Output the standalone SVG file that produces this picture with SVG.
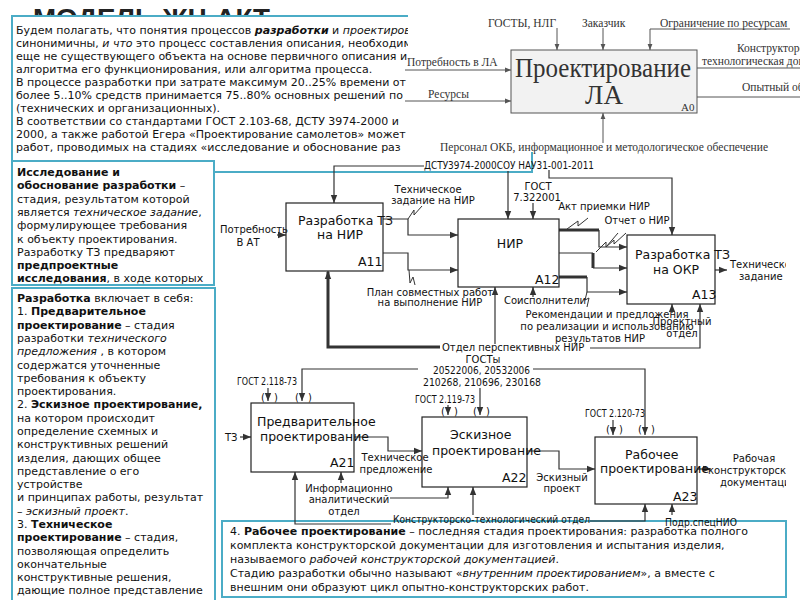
<svg xmlns="http://www.w3.org/2000/svg" width="800" height="600" viewBox="0 0 800 600">
<defs>
<style>
.tb{font-family:"DejaVu Sans",sans-serif;font-size:11px;fill:#111}
.b{font-weight:bold}
.i{font-style:italic}
.box{fill:#fff;stroke:#4BACC6;stroke-width:2}
.n{fill:none;stroke:#222;stroke-width:1.2}
.nl{font-family:"DejaVu Sans",sans-serif;font-size:12.5px;fill:#111}
.lb{font-family:"DejaVu Sans",sans-serif;font-size:10px;fill:#111}
.c{fill:none;stroke:#333;stroke-width:1.2}
.th{stroke-width:3}
.sq{fill:none;stroke:#333;stroke-width:1}
.s{font-family:"Liberation Serif","Times New Roman",serif;fill:#333}
.a0{fill:none;stroke:#555;stroke-width:1}
.m{text-anchor:middle}
</style>
<marker id="ah" viewBox="0 0 10 10" refX="10" refY="5" markerWidth="9" markerHeight="8" markerUnits="userSpaceOnUse" orient="auto"><path d="M0,1 L10,5 L0,9 z" fill="#333"/></marker>
<marker id="ah0" viewBox="0 0 10 10" refX="10" refY="5" markerWidth="7" markerHeight="6" markerUnits="userSpaceOnUse" orient="auto"><path d="M0,1 L10,5 L0,9 z" fill="#555"/></marker>
<clipPath id="clipTop"><rect x="0" y="0" width="408" height="200"/></clipPath>
<clipPath id="clipLow"><rect x="0" y="0" width="786" height="600"/></clipPath>
</defs>
<rect width="800" height="600" fill="#fff"/>

<text id="title" x="33" y="27" font-family="Liberation Sans, Arial, sans-serif" font-weight="bold" font-size="26" fill="#222" textLength="237" lengthAdjust="spacingAndGlyphs">МОДЕЛЬ ЖЦ АКТ</text>

<g id="top-box">
<rect class="box" x="12" y="16" width="520" height="156"/>
<g clip-path="url(#clipTop)" class="tb">
<text x="16" y="34">Будем полагать, что понятия процессов <tspan class="b i">разработки</tspan> и <tspan class="i">проектирова</tspan></text>
<text x="16" y="47">синонимичны, <tspan class="i">и что</tspan> это процесс составления описания, необходимого</text>
<text x="16" y="60">еще не существующего объекта на основе первичного описания и</text>
<text x="16" y="73">алгоритма его функционирования, или алгоритма процесса.</text>
<text x="16" y="86">В процессе разработки при затрате максимум 20..25% времени от</text>
<text x="16" y="99">более 5..10% средств принимается 75..80% основных решений по</text>
<text x="16" y="112">(технических и организационных).</text>
<text x="16" y="125">В соответствии со стандартами ГОСТ 2.103-68, ДСТУ 3974-2000 и</text>
<text x="16" y="138">2000, а также работой Егера «Проектирование самолетов» может</text>
<text x="16" y="151">работ, проводимых на стадиях «исследование и обоснование раз</text>
</g>
</g>

<g id="bottom-box">
<rect class="box" x="222" y="521" width="564" height="76" stroke-width="2.5"/>
<g class="tb">
<text x="230" y="535">4. <tspan class="b">Рабочее проектирование</tspan> – последняя стадия проектирования: разработка полного</text>
<text x="230" y="549">комплекта конструкторской документации для изготовления и испытания изделия,</text>
<text x="230" y="563">называемого <tspan class="i">рабочей конструкторской документацией</tspan>.</text>
<text x="230" y="577">Стадию разработки обычно называют «<tspan class="i">внутренним проектированием</tspan>», а вместе с</text>
<text x="230" y="591">внешним они образуют цикл опытно-конструкторских работ.</text>
</g>
</g>

<g id="lower-diagram" clip-path="url(#clipLow)">
<g id="connectors">
<path class="c" d="M424,166 H334 V203" marker-end="url(#ah)"/>
<path class="c" d="M508,171 V219" marker-end="url(#ah)"/>
<path class="c" d="M533,203 V219" marker-end="url(#ah)"/>
<path class="c" d="M549,170 V178 H672 V235" marker-end="url(#ah)"/>
<path class="c" d="M277,235 H286" marker-end="url(#ah)"/>
<path class="c" d="M383,219 H408 V235 H458" marker-end="url(#ah)"/>
<path class="c" d="M383,253 H408 V270 H458" marker-end="url(#ah)"/>
<path class="c th" d="M440,347 H328 V272"/>
<path class="c" d="M328,280 V271" marker-end="url(#ah)"/>
<path class="c" d="M495,344 V287" marker-end="url(#ah)"/>
<path class="c" d="M590,348 H700 V304" marker-end="url(#ah)"/>
<path class="c" d="M533,297 V287" marker-end="url(#ah)"/>
<path class="c th" d="M559,230 H599"/>
<path class="c" d="M599,230 V247 H627" marker-end="url(#ah)"/>
<path class="c" d="M559,253 H593"/>
<path class="c th" d="M593,253 V268"/>
<path class="c" d="M593,268 H627" marker-end="url(#ah)"/>
<path class="c th" d="M559,277 H587"/>
<path class="c" d="M587,277 V292 H627" marker-end="url(#ah)"/>
<path class="c" d="M672,313 V304" marker-end="url(#ah)"/>
<path class="c" d="M715,270 H727" marker-end="url(#ah)"/>
<path class="sq" d="M408,219 L414,210 L414,215 L422,206"/>
<path class="sq" d="M409,270 L410,283 L413,277 L415,285"/>
<path class="sq" d="M567,229 L578,221 L578,226 L588,218"/>
<path class="sq" d="M596,252 L606,242 L606,247 L618,233"/>
<path class="sq" d="M606,247 L614,240 L614,244 L626,233"/>
<path class="sq" d="M587,292 L585,300 L589,298 L587,307"/>
<path class="c" d="M418,369 H302 V401" marker-end="url(#ah)"/>
<path class="c" d="M268,388 V401" marker-end="url(#ah)"/>
<path class="c" d="M480,388 V415" marker-end="url(#ah)"/>
<path class="c" d="M448,405 V415" marker-end="url(#ah)"/>
<path class="c" d="M533,369 H645 V435" marker-end="url(#ah)"/>
<path class="c" d="M613,420 V435" marker-end="url(#ah)"/>
<path class="c" d="M240,437 H251" marker-end="url(#ah)"/>
<path class="c" d="M354,437 H388 V451 H422" marker-end="url(#ah)"/>
<path class="c" d="M341,483 V472" marker-end="url(#ah)"/>
<path class="c" d="M390,498 H448 V487" marker-end="url(#ah)"/>
<path class="c" d="M391,524 H295 V472" marker-end="url(#ah)"/>
<path class="c" d="M473,515 V487" marker-end="url(#ah)"/>
<path class="c" d="M590,521 H645 V504" marker-end="url(#ah)"/>
<path class="c" d="M672,515 V504" marker-end="url(#ah)"/>
<path class="c" d="M527,451 H559 V469 H595" marker-end="url(#ah)"/>
<path class="c" d="M697,469 H711" marker-end="url(#ah)"/>
</g>
<g id="A11"><rect class="n" x="286" y="203" width="97" height="68"/><text class="nl" x="298" y="225">Разработка ТЗ</text><text class="nl" x="317" y="239">на НИР</text><text class="nl" x="358" y="266">A11</text></g>
<g id="A12"><rect class="n" x="458" y="219" width="101" height="68"/><text class="nl m" x="510" y="248">НИР</text><text class="nl" x="535" y="284">A12</text></g>
<g id="A13"><rect class="n" x="627" y="235" width="88" height="69"/><text class="nl" x="635" y="259">Разработка ТЗ</text><text class="nl" x="653" y="274">на ОКР</text><text class="nl" x="692" y="299">A13</text></g>
<g id="A21"><rect class="n" x="251" y="403" width="103" height="69"/><text class="nl" x="257" y="426">Предварительное</text><text class="nl" x="260" y="441">проектирование</text><text class="nl" x="330" y="467">A21</text></g>
<g id="A22"><rect class="n" x="422" y="417" width="105" height="70"/><text class="nl" x="450" y="439">Эскизное</text><text class="nl" x="432" y="455">проектирование</text><text class="nl" x="502" y="482">A22</text></g>
<g id="A23"><rect class="n" x="595" y="437" width="102" height="67"/><text class="nl" x="625" y="459">Рабочее</text><text class="nl" x="600" y="473">проектирование</text><text class="nl" x="673" y="501">A23</text></g>
<g id="labels" class="lb">
<text x="424" y="169" textLength="170" lengthAdjust="spacingAndGlyphs">ДСТУ3974-2000СОУ НАУ31-001-2011</text>
<text class="m" x="254" y="233">Потребность</text><text class="m" x="248" y="246">В АТ</text>
<text class="m" x="428" y="193">Техническое</text><text class="m" x="433" y="204">задание на НИР</text>
<text class="m" x="538" y="190">ГОСТ</text><text class="m" x="537" y="201">7.322001</text>
<text class="m" x="604" y="210">Акт приемки НИР</text>
<text class="m" x="637" y="224">Отчет о НИР</text>
<text class="m" x="430" y="296">План совместных работ</text><text class="m" x="430" y="306">на выполнение НИР</text>
<text class="m" x="545" y="304">Соисполнители</text>
<text class="m" x="607" y="318">Рекомендации и предложения</text><text class="m" x="607" y="330">по реализации и использованию</text><text class="m" x="600" y="342">результатов НИР</text>
<text class="m" x="682" y="325">Проектный</text><text class="m" x="682" y="337">отдел</text>
<text x="442" y="351">Отдел перспективных НИР</text>
<text x="730" y="268">Техническое</text><text x="739" y="280">задание</text>
<text class="m" x="483" y="363">ГОСТы</text>
<text x="433" y="374" textLength="97" lengthAdjust="spacingAndGlyphs">20522006, 20532006</text>
<text x="423" y="386" textLength="118" lengthAdjust="spacingAndGlyphs">210268, 210696, 230168</text>
<text x="237" y="385" font-size="11" textLength="60" lengthAdjust="spacingAndGlyphs">ГОСТ 2.118-73</text>
<text x="415" y="403" font-size="11" textLength="60" lengthAdjust="spacingAndGlyphs">ГОСТ 2.119-73</text>
<text x="585" y="417" font-size="11" textLength="60" lengthAdjust="spacingAndGlyphs">ГОСТ 2.120-73</text>
<text x="261" y="401">(</text><text x="274" y="401">)</text>
<text x="295" y="401">(</text><text x="308" y="401">)</text>
<text x="441" y="415">(</text><text x="454" y="415">)</text>
<text x="473" y="415">(</text><text x="486" y="415">)</text>
<text x="606" y="433">(</text><text x="619" y="433">)</text>
<text x="638" y="433">(</text><text x="651" y="433">)</text>
<text x="225" y="441">ТЗ</text>
<text class="m" x="395" y="461">Техническое</text><text class="m" x="396" y="473">предложение</text>
<text class="m" x="349" y="492">Информационно</text><text class="m" x="349" y="503">аналитический</text><text class="m" x="344" y="515">отдел</text>
<text class="m" x="562" y="481">Эскизный</text><text class="m" x="562" y="492">проект</text>
<text x="393" y="523" textLength="197" lengthAdjust="spacingAndGlyphs">Конструкторско-технологический отдел</text>
<text x="665" y="526" textLength="72" lengthAdjust="spacingAndGlyphs">Подр.спецНИО</text>
<text class="m" x="754" y="462">Рабочая</text><text x="708" y="474">конструкторская</text><text x="720" y="486">документация</text>
</g>
</g>

<g id="a0-diagram">
<rect x="408" y="0" width="392" height="152" fill="#fff"/>
<g id="A0"><rect x="511" y="50" width="186" height="63" fill="#f2f2f2" stroke="#555" stroke-width="1"/>
<text class="s" x="515" y="77" font-size="27" textLength="176" lengthAdjust="spacingAndGlyphs">Проектирование</text>
<text class="s m" x="604" y="104" font-size="27">ЛА</text>
<text class="s" x="681" y="111" font-size="11">A0</text></g>
<g id="a0-connectors">
<path class="a0" d="M557,28 V50" marker-end="url(#ah0)"/>
<path class="a0" d="M603,28 V50" marker-end="url(#ah0)"/>
<path class="a0" d="M790,29 H650 V50" marker-end="url(#ah0)"/>
<path class="a0" d="M405,70 H511" marker-end="url(#ah0)"/>
<path class="a0" d="M405,101 H511" marker-end="url(#ah0)"/>
<path class="a0" d="M697,68 H800"/>
<path class="a0" d="M697,97 H800"/>
<path class="a0" d="M603,143 V113" marker-end="url(#ah0)"/>
</g>
<g class="s" font-size="11.5">
<text x="488" y="27">ГОСТЫ, НЛГ</text>
<text x="582" y="27">Заказчик</text>
<text x="660" y="27">Ограничение по ресурсам</text>
<text x="407" y="66">Потребность в ЛА</text>
<text x="428" y="98">Ресурсы</text>
<text x="737" y="52">Конструкторско-</text>
<text x="702" y="65">технологическая документация</text>
<text x="742" y="91">Опытный образец</text>
<text x="440" y="151" textLength="328" lengthAdjust="spacingAndGlyphs">Персонал ОКБ, информационное и методологическое обеспечение</text>
</g>
</g>

<g id="left-box-1">
<rect class="box" x="12" y="161" width="202" height="124"/>
<g class="tb">
<text x="17" y="176" class="b">Исследование и</text>
<text x="17" y="189"><tspan class="b">обоснование разработки</tspan> –</text>
<text x="17" y="203">стадия, результатом которой</text>
<text x="17" y="216">является <tspan class="i">техническое задание</tspan>,</text>
<text x="17" y="229">формулирующее требования</text>
<text x="17" y="243">к объекту проектирования.</text>
<text x="17" y="256">Разработку ТЗ предваряют</text>
<text x="17" y="269" class="b">предпроектные</text>
<text x="17" y="282"><tspan class="b">исследования</tspan>, в ходе которых</text>
</g>
</g>

<g id="left-box-2">
<rect class="box" x="12" y="288" width="203" height="320"/>
<g class="tb">
<text x="17" y="302"><tspan class="b">Разработка</tspan> включает в себя:</text>
<text x="17" y="315">1. <tspan class="b">Предварительное</tspan></text>
<text x="17" y="329"><tspan class="b">проектирование</tspan> – стадия</text>
<text x="17" y="342">разработки <tspan class="i">технического</tspan></text>
<text x="17" y="355"><tspan class="i">предложения</tspan> , в котором</text>
<text x="17" y="369">содержатся уточненные</text>
<text x="17" y="382">требования к объекту</text>
<text x="17" y="395">проектирования.</text>
<text x="17" y="408">2. <tspan class="b">Эскизное проектирование,</tspan></text>
<text x="17" y="422">на котором происходит</text>
<text x="17" y="435">определение схемных и</text>
<text x="17" y="448">конструктивных решений</text>
<text x="17" y="462">изделия, дающих общее</text>
<text x="17" y="475">представление о его</text>
<text x="17" y="488">устройстве</text>
<text x="17" y="501">и принципах работы, результат</text>
<text x="17" y="515">– <tspan class="i">эскизный проект</tspan>.</text>
<text x="17" y="528">3. <tspan class="b">Техническое</tspan></text>
<text x="17" y="541"><tspan class="b">проектирование</tspan> – стадия,</text>
<text x="17" y="555">позволяющая определить</text>
<text x="17" y="568">окончательные</text>
<text x="17" y="581">конструктивные решения,</text>
<text x="17" y="594">дающие полное представление</text>
</g>
</g>
</svg>
